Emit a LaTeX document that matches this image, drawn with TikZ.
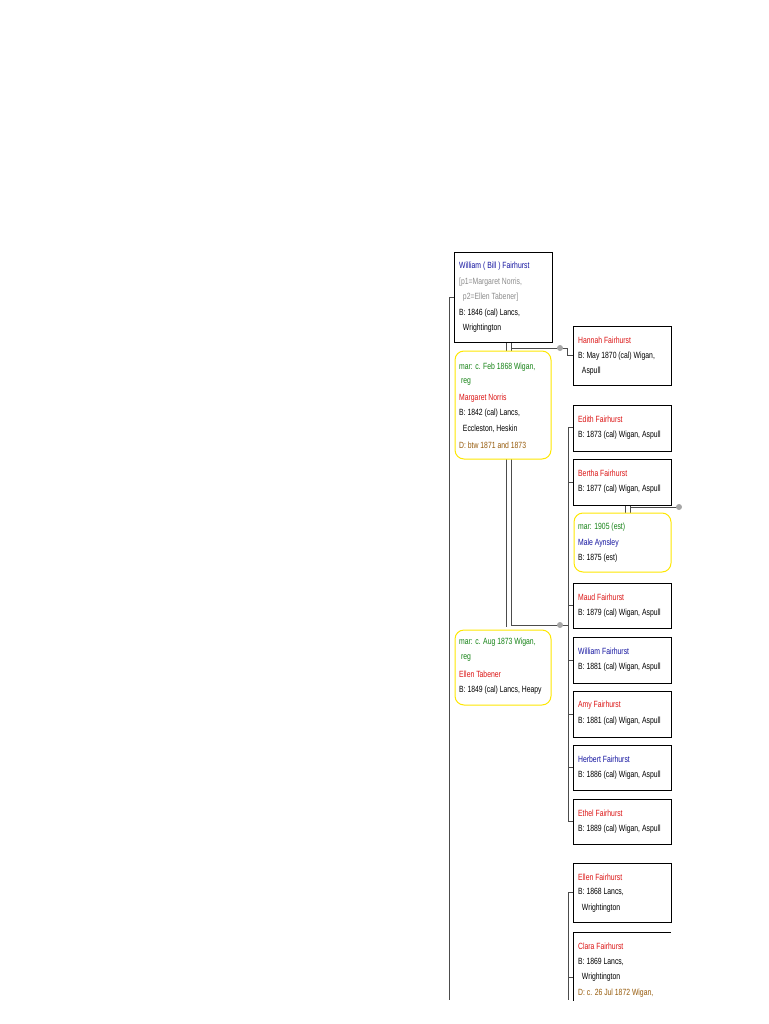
\documentclass[tikz,border=0pt]{standalone}
\usepackage{fontspec}
\setmainfont{Liberation Sans}
\begin{document}
\begin{tikzpicture}[x=1pt,y=-1pt,
  t/.style={anchor=west,inner sep=0pt,font=\fontsize{9}{10}\selectfont,xscale=0.76,transform shape},
  pbox/.style={draw=black,line width=1pt},
  ybox/.style={draw=yellow!90!orange,line width=1pt,rounded corners=9pt},
  ln/.style={draw=black!70,line width=0.6pt},
  dot/.style={circle,fill=black!35,inner sep=0pt,minimum size=6pt}]
\definecolor{cb}{RGB}{20,20,160}\definecolor{cr}{RGB}{220,20,20}
\definecolor{cg}{RGB}{20,130,20}\definecolor{cbr}{RGB}{150,90,10}\definecolor{cgy}{RGB}{140,140,140}
\useasboundingbox (0,0) rectangle (768,1024);
\begin{scope}
\clip (0,0) rectangle (768,1000);
% lines
\draw[ln] (449,297) -- (449,1000);
\draw[ln] (449,297) -- (454,297);
\draw[ln] (506.5,342) -- (506.5,627);
\draw[ln] (511.5,342) -- (511.5,625) -- (568,625);
\draw[ln] (511.5,348) -- (567,348) -- (567,355) -- (573,355);
\draw[ln] (568,427) -- (568,821);
\foreach \y in {427,482,605,660,714,767,821} \draw[ln] (568,\y) -- (573,\y);
\draw[ln] (568,892) -- (568,1000);
\draw[ln] (568,892) -- (573,892); \draw[ln] (568,977) -- (573,977);
\draw[ln] (625.5,505) -- (625.5,513);
\draw[ln] (630.5,505) -- (630.5,513);
\draw[ln] (630.5,507) -- (680,507);
\node[dot] (d1) at (560,348) {};
\node[dot] (d2) at (560,625) {};
\node[dot] (d3) at (679,507) {};
% boxes
\draw[pbox,fill=white] (454,252) rectangle (552,342);
\draw[ybox,fill=white] (455,351) rectangle (551,459);
\draw[ybox,fill=white] (455,630) rectangle (551,705);
\foreach \a/\b in {326/385,405/451,459/505,583/628,637/683,691/737,745/790,799/844,863/922}
  \draw[pbox,fill=white] (573,\a) rectangle (671,\b);
\draw[pbox,fill=white] (671,1010) -- (573,1010) -- (573,932) -- (671,932);
\draw[ybox,fill=white] (574,513) rectangle (671,572);
% texts
\node[t,text=cb] (w1) at (459,266) {William ( Bill ) Fairhurst};
\node[t,text=cgy] (w2) at (459,282) {[p1=Margaret Norris,};
\node[t,text=cgy] (w3) at (459,297) {\ \ p2=Ellen Tabener]};
\node[t] (w4) at (459,313) {B: 1846 (cal) Lancs,};
\node[t] (w5) at (459,328) {\ \ Wrightington};
\node[t,text=cg] (m1) at (459,367) {mar: c. Feb 1868 Wigan,};
\node[t,text=cg] (m2) at (459,382) {\ reg};
\node[t,text=cr] (m3) at (459,398) {Margaret Norris};
\node[t] (m4) at (459,413) {B: 1842 (cal) Lancs,};
\node[t] (m5) at (459,429) {\ \ Eccleston, Heskin};
\node[t,text=cbr] (m6) at (459,445) {D: btw 1871 and 1873};
\node[t,text=cg] (e1) at (459,642) {mar: c. Aug 1873 Wigan,};
\node[t,text=cg] (e2) at (459,658) {\ reg};
\node[t,text=cr] (e3) at (459,674) {Ellen Tabener};
\node[t] (e4) at (459,690) {B: 1849 (cal) Lancs, Heapy};
\node[t,text=cr] (h1) at (578,340) {Hannah Fairhurst};
\node[t] (h2) at (578,356) {B: May 1870 (cal) Wigan,};
\node[t] (h3) at (578,371) {\ \ Aspull};
\node[t,text=cr] (c1) at (578,419) {Edith Fairhurst};
\node[t] (c1b) at (578,435) {B: 1873 (cal) Wigan, Aspull};
\node[t,text=cr] (c2) at (578,473) {Bertha Fairhurst};
\node[t] (c2b) at (578,489) {B: 1877 (cal) Wigan, Aspull};
\node[t,text=cg] (s1) at (578,527) {mar: 1905 (est)};
\node[t,text=cb] (s2) at (578,543) {Male Aynsley};
\node[t] (s3) at (578,558) {B: 1875 (est)};
\node[t,text=cr] (c3) at (578,597) {Maud Fairhurst};
\node[t] (c3b) at (578,613) {B: 1879 (cal) Wigan, Aspull};
\node[t,text=cb] (c4) at (578,651) {William Fairhurst};
\node[t] (c4b) at (578,667) {B: 1881 (cal) Wigan, Aspull};
\node[t,text=cr] (c5) at (578,705) {Amy Fairhurst};
\node[t] (c5b) at (578,721) {B: 1881 (cal) Wigan, Aspull};
\node[t,text=cb] (c6) at (578,759) {Herbert Fairhurst};
\node[t] (c6b) at (578,775) {B: 1886 (cal) Wigan, Aspull};
\node[t,text=cr] (c7) at (578,813) {Ethel Fairhurst};
\node[t] (c7b) at (578,829) {B: 1889 (cal) Wigan, Aspull};
\node[t,text=cr] (f1) at (578,877) {Ellen Fairhurst};
\node[t] (f2) at (578,892) {B: 1868 Lancs,};
\node[t] (f3) at (578,908) {\ \ Wrightington};
\node[t,text=cr] (g1) at (578,946) {Clara Fairhurst};
\node[t] (g2) at (578,962) {B: 1869 Lancs,};
\node[t] (g3) at (578,977) {\ \ Wrightington};
\node[t,text=cbr] (g4) at (578,993) {D: c. 26 Jul 1872 Wigan,};
\end{scope}
\end{tikzpicture}
\end{document}
